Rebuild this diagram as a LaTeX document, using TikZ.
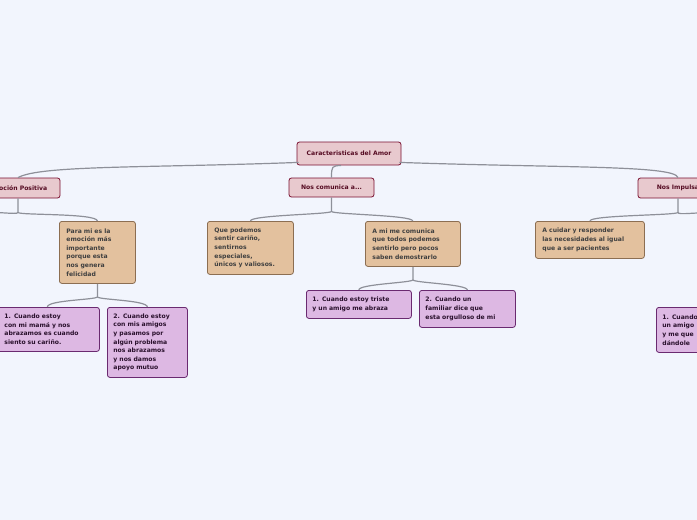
\documentclass[tikz,border=0pt]{standalone}
\usepackage{fontspec}
\setmainfont{DejaVu Sans}
\begin{document}
\begin{tikzpicture}[x=1pt,y=-1pt,
  base/.style={draw,rounded corners=2.5pt,line width=0.8pt,font=\bfseries\fontsize{6.1}{8.6}\selectfont,inner sep=0pt},
  topic/.style={base,fill=rootf,draw=rootd,text=rootd!70!black,align=center},
  orange/.style={base,fill=orf,draw=ord,text=black!75,align=left,anchor=north west},
  purple/.style={base,fill=puf,draw=pud,text=pud!40!black,align=left,anchor=north west},
  link/.style={draw=linec,line width=1.2pt}]
\definecolor{bg}{HTML}{F2F5FD}
\definecolor{rootf}{HTML}{E8C9CE}\definecolor{rootd}{HTML}{7A1030}
\definecolor{orf}{HTML}{E3C19E}\definecolor{ord}{HTML}{8C6E52}
\definecolor{puf}{HTML}{DDB8E3}\definecolor{pud}{HTML}{6A2A70}
\definecolor{linec}{HTML}{8E9099}
\useasboundingbox (0,0) rectangle (697,520);
\fill[bg] (0,0) rectangle (697,520);
\clip (0,0) rectangle (697,520);
% nodes
\node[topic,minimum width=104,minimum height=23] (root) at (349,153.5) {Caracteristicas del Amor};
\node[topic,minimum width=84,minimum height=20] (emo) at (18,188) {Emoción Positiva};
\node[topic,minimum width=85,minimum height=19] (com) at (331.5,187.5) {Nos comunica a...};
\node[topic,minimum width=80,minimum height=20] (imp) at (678,188) {Nos Impulsa};
\node[orange,minimum width=76,minimum height=62,text width=62,inner xsep=7,inner ysep=4] (para) at (59,221) {Para mi es la\\emoción más\\importante\\porque esta\\nos genera\\felicidad};
\node[orange,minimum width=86,minimum height=53,text width=72,inner xsep=7,inner ysep=4] (que) at (207,221) {Que podemos\\sentir cariño,\\sentirnos\\especiales,\\únicos y valiosos.};
\node[orange,minimum width=95,minimum height=45,text width=81,inner xsep=7,inner ysep=4] (ami) at (365,221) {A mi me comunica\\que todos podemos\\sentirlo pero pocos\\saben demostrarlo};
\node[orange,minimum width=109,minimum height=37,text width=95,inner xsep=7,inner ysep=4] (cui) at (535,221) {A cuidar y responder\\las necesidades al igual\\que a ser pacientes};
\node[purple,minimum width=104,minimum height=44,text width=92,inner xsep=6,inner ysep=4] (p1) at (-5,307) {\hspace*{3pt}1. Cuando estoy\\\hspace*{3pt}con mi mamá y nos\\\hspace*{3pt}abrazamos es cuando\\\hspace*{3pt}siento su cariño.};
\node[purple,minimum width=80,minimum height=70,text width=68,inner xsep=6,inner ysep=4] (p2) at (107,307) {2. Cuando estoy\\con mis amigos\\y pasamos por\\algún problema\\nos abrazamos\\y nos damos\\apoyo mutuo};
\node[purple,minimum width=105,minimum height=28,text width=93,inner xsep=6,inner ysep=4] (p3) at (306,290) {1. Cuando estoy triste\\y un amigo me abraza};
\node[purple,minimum width=96,minimum height=37,text width=84,inner xsep=6,inner ysep=4] (p4) at (419,290) {2. Cuando un\\familiar dice que\\esta orgulloso de mi};
\node[purple,minimum width=90,minimum height=45,text width=78,inner xsep=6,inner ysep=4] (p5) at (656,307) {1. Cuando\\un amigo\\y me que\\dándole};
% connectors
\draw[link] (root.west|-root.south) ++(2,-3) .. controls (150,168) and (40,165) .. (emo.north);
\draw[link] (root.south) ++(-8,0) .. controls (332,166) and (331.5,166) .. (com.north);
\draw[link] (root.east|-root.south) ++(-2,-3) .. controls (560,168) and (675,165) .. (imp.north);
\draw[link] (emo.south) -- ++(0,14) coordinate (ej) .. controls ++(0,3) and (97,213) .. (para.north);
\draw[link] (ej) .. controls ++(0,3) and (-10,210) .. (-20,214);
\draw[link] (com.south) -- ++(0,14) coordinate (cj) .. controls ++(0,3) and (250,215) .. (que.north);
\draw[link] (cj) .. controls ++(0,3) and (412,215) .. (ami.north);
\draw[link] (imp.south) -- ++(0,14) coordinate (ij) .. controls ++(0,3) and (590,215) .. (cui.north);
\draw[link] (ij) .. controls ++(0,3) and (697,212) .. (710,213);
\draw[link] (para.south) -- ++(0,13) coordinate (pj) .. controls ++(0,3) and (47,300) .. (p1.north);
\draw[link] (pj) .. controls ++(0,3) and (147,300) .. (p2.north);
\draw[link] (ami.south) -- ++(0,13) coordinate (aj) .. controls ++(0,3) and (358,284) .. (p3.north);
\draw[link] (aj) .. controls ++(0,3) and (467,284) .. (p4.north);
\end{tikzpicture}
\end{document}
